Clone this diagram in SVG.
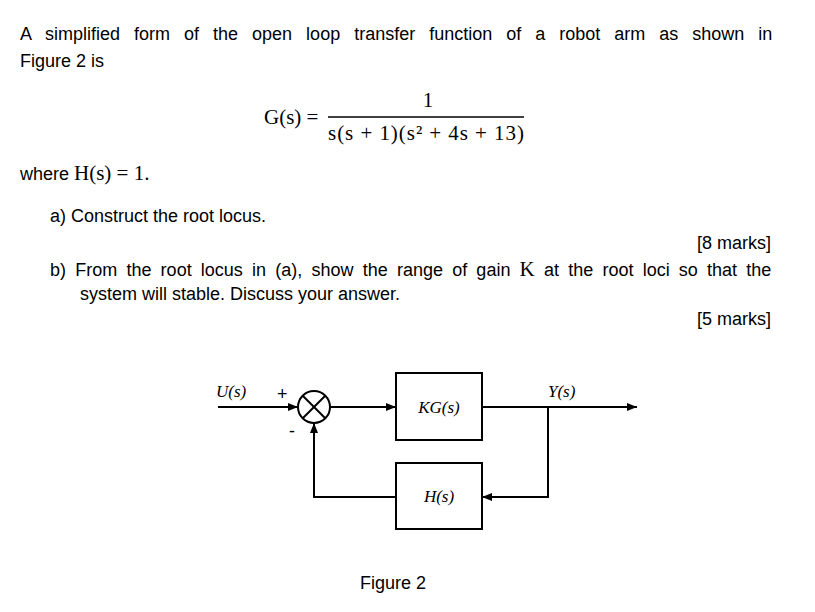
<svg xmlns="http://www.w3.org/2000/svg" width="815" height="612" viewBox="0 0 815 612">
<style>
.t{font-family:"Liberation Sans",Arial,sans-serif;font-size:18px;fill:#000}
.m{font-family:"Liberation Serif","Times New Roman",serif;font-size:21px;fill:#000}
.i{font-family:"Liberation Serif","Times New Roman",serif;font-style:italic;font-size:17px;fill:#000}
.ln{stroke:#000;stroke-width:2;fill:none}
</style>
<defs><marker id="a" markerWidth="10" markerHeight="8" refX="10" refY="4" orient="auto" markerUnits="userSpaceOnUse"><path d="M0,0 L10,4 L0,8 z" fill="#000"/></marker></defs>
<rect width="815" height="612" fill="#fff"/>
<text class="t" x="20" y="40" word-spacing="9">A simplified form of the open loop transfer function of a robot arm as shown in</text>
<text class="t" x="20" y="67">Figure 2 is</text>
<text class="m" x="264" y="124">G(s) =</text>
<text class="m" x="428" y="107" text-anchor="middle">1</text>
<line x1="328" y1="117" x2="524" y2="117" stroke="#000" stroke-width="1.3"/>
<text class="m" x="328" y="140" textLength="196" lengthAdjust="spacing">s(s + 1)(s² + 4s + 13)</text>
<text class="t" x="20" y="180">where <tspan class="m" font-size="19">H(s) = 1.</tspan></text>
<text class="t" x="50" y="222">a)  Construct the root locus.</text>
<text class="t" x="771" y="249" text-anchor="end">[8 marks]</text>
<text class="t" x="50" y="276" word-spacing="4.2">b)  From the root locus in (a), show the range of gain <tspan class="m" font-size="19">K</tspan> at the root loci so that the</text>
<text class="t" x="80" y="300">system will stable. Discuss your answer.</text>
<text class="t" x="771" y="325" text-anchor="end">[5 marks]</text>
<g id="sum"><circle cx="314" cy="407" r="16" class="ln"/><line x1="303" y1="396" x2="325" y2="418" class="ln"/><line x1="325" y1="396" x2="303" y2="418" class="ln"/></g>
<g id="kg"><rect x="396" y="373" width="86" height="67" class="ln"/><text class="i" x="439" y="413" text-anchor="middle">KG(s)</text></g>
<g id="h"><rect x="396" y="463" width="86" height="66" class="ln"/><text class="i" x="439" y="502" text-anchor="middle">H(s)</text></g>
<g id="connectors">
<line x1="218" y1="407" x2="298" y2="407" class="ln" marker-end="url(#a)"/>
<line x1="330" y1="407" x2="396" y2="407" class="ln" marker-end="url(#a)"/>
<line x1="482" y1="407" x2="637" y2="407" class="ln" marker-end="url(#a)"/>
<polyline points="548,407 548,497 482,497" class="ln" marker-end="url(#a)"/>
<polyline points="396,497 314,497 314,423" class="ln" marker-end="url(#a)"/>
</g>
<text class="i" x="216" y="397">U(s)</text>
<text class="t" x="277" y="400" font-size="15">+</text>
<text class="t" x="289" y="437" font-size="16">-</text>
<text class="i" x="548" y="397">Y(s)</text>
<text class="t" x="360" y="589">Figure 2</text>
</svg>
